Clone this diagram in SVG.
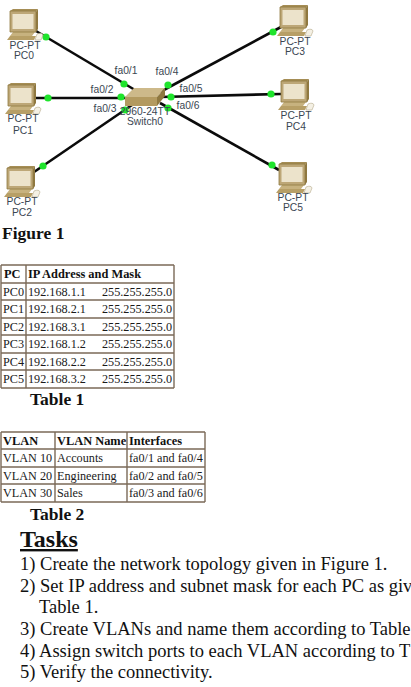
<svg xmlns="http://www.w3.org/2000/svg" width="411" height="687" viewBox="0 0 411 687">
<style>
.lk{stroke:#0b0b0b;stroke-width:2.6;fill:none}
.dot{fill:#1fe42c}
.lab{font:10.300px "Liberation Sans",Arial,sans-serif;fill:#3a4652;text-anchor:middle}
.t{font:12.200px "Liberation Serif","Times New Roman",serif;fill:#1a1a1a}
.b{font:bold 12.400px "Liberation Serif","Times New Roman",serif;fill:#111}
.h{font:bold 17.500px "Liberation Serif","Times New Roman",serif;fill:#111}
.task{font:18.500px "Liberation Serif","Times New Roman",serif;fill:#111}
.grid{stroke:#7b6a58;stroke-width:1.4;fill:none}
</style>
<defs>
<symbol id="pc" viewBox="0 0 46 32" width="46" height="32" overflow="visible">
<path d="M9 27 L31 27 L34 23 L12 23Z" fill="#c7b27f"/>
<path d="M6 31 L33 31 L35 27 L9 27Z" fill="#b79f66"/>
<path d="M9 2 L12 0 L37 0 L35 3Z" fill="#a58d55"/>
<path d="M9 2 H35 V23 H9Z" fill="#bda777" stroke="#8f7840" stroke-width=".8"/>
<path d="M35 3 L37 0 V20 L35 23Z" fill="#8f7840"/>
<rect x="11.500" y="5" width="21" height="15" fill="#ece3cb"/>
<path d="M36 25 Q41 23 42 26 L40 31 L34 31Z" fill="#f4f0e4" stroke="#b5a98a" stroke-width=".6"/>
</symbol>
</defs>
<rect width="411" height="687" fill="#fff"/>
<g id="connectors">
<line class="lk" x1="36" y1="31" x2="135" y2="90"/>
<line class="lk" x1="35" y1="98" x2="130" y2="98"/>
<line class="lk" x1="34" y1="172" x2="132" y2="105"/>
<line class="lk" x1="281" y1="27" x2="160" y2="92"/>
<line class="lk" x1="281" y1="94" x2="160" y2="97"/>
<line class="lk" x1="279" y1="170" x2="160" y2="103"/>
<circle class="dot" cx="46" cy="37" r="3.600"/>
<circle class="dot" cx="48" cy="98" r="3.600"/>
<circle class="dot" cx="43" cy="166" r="3.600"/>
<circle class="dot" cx="124" cy="84" r="3.600"/>
<circle class="dot" cx="121" cy="97" r="3.600"/>
<circle class="dot" cx="125" cy="110" r="3.600"/>
<circle class="dot" cx="168" cy="85" r="3.600"/>
<circle class="dot" cx="171" cy="97" r="3.600"/>
<circle class="dot" cx="168" cy="108" r="3.600"/>
<circle class="dot" cx="273" cy="32" r="3.600"/>
<circle class="dot" cx="271" cy="94" r="3.600"/>
<circle class="dot" cx="272" cy="165" r="3.600"/>
</g>
<g id="switch0">
<path d="M125 97 L134 88 L165 88 L157 97Z" fill="#cdb98a"/>
<path d="M125 97 H157 V106 H125Z" fill="#b39a60"/>
<path d="M157 97 L165 88 V96 L157 106Z" fill="#8f7840"/>
<text class="lab" x="145" y="115">2960-24TT</text>
<text class="lab" x="145" y="125">Switch0</text>
</g>
<g class="lab">
<text x="126" y="74">fa0/1</text><text x="102" y="93">fa0/2</text><text x="105" y="112">fa0/3</text>
<text x="167" y="75">fa0/4</text><text x="191" y="92">fa0/5</text><text x="188" y="109">fa0/6</text>
</g>
<g id="pc0"><use href="#pc" x="1" y="9"/><text class="lab" x="25" y="49">PC-PT</text><text class="lab" x="24" y="59">PC0</text></g>
<g id="pc1"><use href="#pc" x="-1" y="83"/><text class="lab" x="23" y="122">PC-PT</text><text class="lab" x="23" y="134">PC1</text></g>
<g id="pc2"><use href="#pc" x="-2" y="166"/><text class="lab" x="22" y="205">PC-PT</text><text class="lab" x="22" y="216">PC2</text></g>
<g id="pc3"><use href="#pc" x="271" y="5"/><text class="lab" x="295" y="45">PC-PT</text><text class="lab" x="295" y="55">PC3</text></g>
<g id="pc4"><use href="#pc" x="272" y="79"/><text class="lab" x="296" y="119">PC-PT</text><text class="lab" x="296" y="130">PC4</text></g>
<g id="pc5"><use href="#pc" x="270" y="162"/><text class="lab" x="293" y="201">PC-PT</text><text class="lab" x="293" y="211">PC5</text></g>
<text class="h" x="2" y="239">Figure 1</text>
<g id="table1">
<path class="grid" d="M1 265H174M1 283H174M1 300H174M1 318H174M1 335H174M1 353H174M1 370H174M1 388H174M1 265V388M26 265V388M174 265V388"/>
<text class="b" x="4" y="278">PC</text><text class="b" x="28" y="278">IP Address and Mask</text>
<g class="t">
<text x="3" y="296">PC0</text><text x="28" y="296">192.168.1.1</text><text x="102" y="296">255.255.255.0</text>
<text x="3" y="313">PC1</text><text x="28" y="313">192.168.2.1</text><text x="102" y="313">255.255.255.0</text>
<text x="3" y="331">PC2</text><text x="28" y="331">192.168.3.1</text><text x="102" y="331">255.255.255.0</text>
<text x="3" y="348">PC3</text><text x="28" y="348">192.168.1.2</text><text x="102" y="348">255.255.255.0</text>
<text x="3" y="366">PC4</text><text x="28" y="366">192.168.2.2</text><text x="102" y="366">255.255.255.0</text>
<text x="3" y="383">PC5</text><text x="28" y="383">192.168.3.2</text><text x="102" y="383">255.255.255.0</text>
</g>
</g>
<text class="h" x="30" y="405">Table 1</text>
<g id="table2">
<path class="grid" d="M1 432H205M1 449H205M1 467H205M1 484H205M1 502H205M1 432V502M55 432V502M127 432V502M205 432V502"/>
<text class="b" x="3" y="445">VLAN</text><text class="b" x="57" y="445">VLAN Name</text><text class="b" x="129" y="445">Interfaces</text>
<g class="t">
<text x="3" y="462">VLAN 10</text><text x="57" y="462">Accounts</text><text x="129" y="462">fa0/1 and fa0/4</text>
<text x="3" y="480">VLAN 20</text><text x="57" y="480">Engineering</text><text x="129" y="480">fa0/2 and fa0/5</text>
<text x="3" y="497">VLAN 30</text><text x="57" y="497">Sales</text><text x="129" y="497">fa0/3 and fa0/6</text>
</g>
</g>
<text class="h" x="30" y="520">Table 2</text>
<text x="20" y="547" font-family="Liberation Serif,Times New Roman,serif" font-weight="bold" font-size="24" text-decoration="underline" fill="#111">Tasks</text>
<g class="task">
<text x="20" y="570">1) Create the network topology given in Figure 1.</text>
<text x="20" y="592">2) Set IP address and subnet mask for each PC as giv</text>
<text x="39" y="613">Table 1.</text>
<text x="20" y="635">3) Create VLANs and name them according to Table</text>
<text x="20" y="657">4) Assign switch ports to each VLAN according to T</text>
<text x="20" y="678">5) Verify the connectivity.</text>
</g>
</svg>
